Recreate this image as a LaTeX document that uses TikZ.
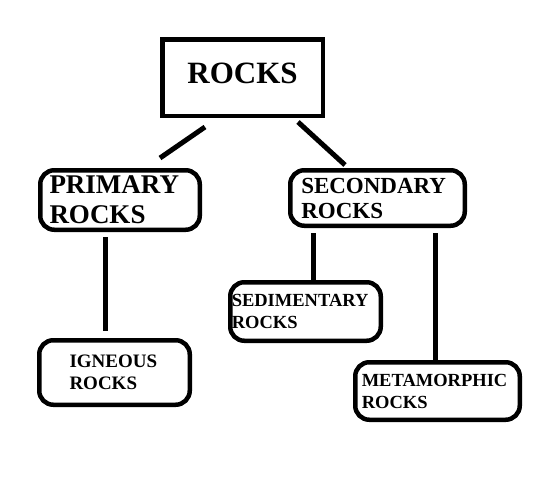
\documentclass[tikz,border=0pt]{standalone}
\usepackage{fontspec}
\setmainfont{Liberation Serif}
\begin{document}
\begin{tikzpicture}[x=1pt,y=-1pt,
    rockbox/.style={draw, line width=4.5pt, rounded corners=14pt, align=left, inner ysep=0pt},
    link/.style={line width=5pt}]
    \useasboundingbox (0,0) rectangle (552,490);

        \node[draw, line width=4.5pt, minimum width=160.5pt, minimum height=76.5pt, text depth=9pt,
            font=\fontsize{31}{36}\selectfont\bfseries] (rocks) at (242.5,77.5) {ROCKS};

        \node[rockbox, text width=141pt, inner xsep=9.25pt, minimum height=59.5pt,
            font=\fontsize{27}{30}\selectfont\bfseries] (primary) at (120,200) {PRIMARY\\ROCKS};
        \node[rockbox, text width=152.5pt, inner xsep=11pt, minimum height=55.5pt,
            font=\fontsize{23}{25}\selectfont\bfseries] (secondary) at (377.5,198) {SECONDARY\\ROCKS};

        \node[rockbox, text width=90pt, inner xsep=30.25pt, minimum height=64.5pt,
            font=\fontsize{19}{22}\selectfont\bfseries] (igneous) at (114.5,372.5) {IGNEOUS\\ROCKS};
        \node[rockbox, text width=147.5pt, inner xsep=1.5pt, minimum height=58.5pt,
            font=\fontsize{18.5}{22}\selectfont\bfseries] (sedimentary) at (305.5,311.5) {SEDIMENTARY\\ROCKS};
        \node[rockbox, text width=151.5pt, inner xsep=6.5pt, minimum height=57.5pt,
            font=\fontsize{18.5}{22}\selectfont\bfseries] (metamorphic) at (437.5,391) {METAMORPHIC\\ROCKS};

        \draw[link]([xshift=-37.5pt,yshift=-9pt]rocks.south) to ([xshift=40pt,yshift=10pt]primary.north);
        \draw[link]([xshift=55.5pt,yshift=-4pt]rocks.south) to ([xshift=-32.5pt,yshift=3pt]secondary.north);

        \draw[link]([xshift=-15pt,yshift=-5pt]primary.south) to ([xshift=-9.5pt,yshift=7pt]igneous.north);

        \draw[link]([xshift=-64.5pt,yshift=-5pt]secondary.south) to ([xshift=7.5pt]sedimentary.north);
        \draw[link]([xshift=57.5pt,yshift=-5pt]secondary.south) to ([xshift=-2.5pt]metamorphic.north);
\end{tikzpicture}
\end{document}
